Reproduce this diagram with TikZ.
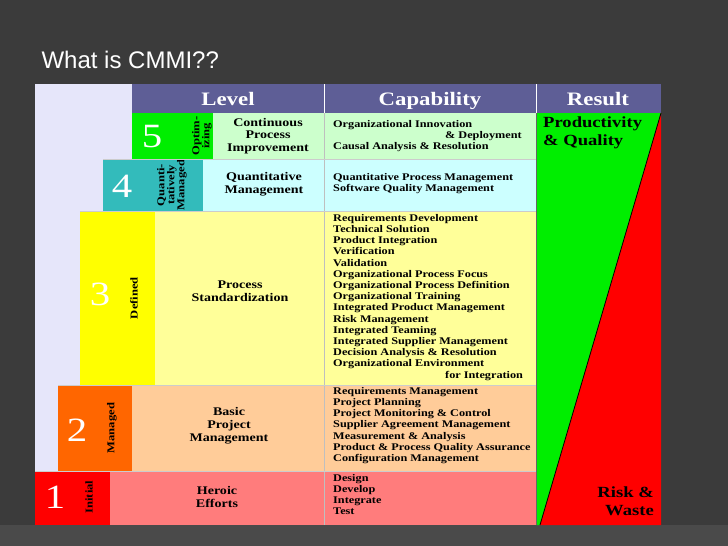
\documentclass[tikz,border=0pt]{standalone}
\usepackage{fontspec}
\setmainfont{Liberation Serif}[FakeStretch=1.2]
\newfontfamily\titlefont{Liberation Sans}
\definecolor{bg}{HTML}{3B3B3B}
\definecolor{bgb}{HTML}{4A4A4A}
\definecolor{lav}{HTML}{E6E6FA}
\definecolor{hdr}{HTML}{5E5E96}
\definecolor{g5}{HTML}{00EE00}\definecolor{l5}{HTML}{CCFFCC}
\definecolor{g4}{HTML}{33BBBB}\definecolor{l4}{HTML}{CCFFFF}
\definecolor{g3}{HTML}{FFFF00}\definecolor{l3}{HTML}{FFFF99}
\definecolor{g2}{HTML}{FF6600}\definecolor{l2}{HTML}{FFCC99}
\definecolor{g1}{HTML}{FF0000}\definecolor{l1}{HTML}{FF7C7C}
\tikzset{
 num/.style={text=white, font=\fontsize{34}{34}\selectfont, anchor=center},
 rot/.style={rotate=90, font=\bfseries\fontsize{10.5}{10}\selectfont, align=center, anchor=center},
 desc/.style={font=\bfseries\fontsize{11.7}{12.8}\selectfont, align=center, anchor=center},
 captext/.style={font=\bfseries\fontsize{10.2}{11.2}\selectfont, align=left, anchor=north west, inner sep=0pt},
 hd/.style={text=white, font=\bfseries\fontsize{19}{19}\selectfont, anchor=base}
}
\begin{document}
\begin{tikzpicture}[x=1pt,y=-1pt]
\fill[bg] (0,0) rectangle (728,546);
\fill[bgb] (0,525) rectangle (728,546);
\useasboundingbox (0,0) rectangle (728,546);
\node[text=white, font=\titlefont\fontsize{24}{24}\selectfont, anchor=west] (title) at (38,60) {What is CMMI??};
\fill[lav] (35,84) rectangle (132,525);
% header
\fill[hdr] (132,84) rectangle (661,113);
\draw[white] (324,84) -- (324,113) (536,84) -- (536,113);
\node[hd] (hl) at (228,105) {Level};
\node[hd] (hc) at (430,105) {Capability};
\node[hd] (hr) at (598,105) {Result};
% row 5
\fill[g5] (132,113) rectangle (213,159);
\fill[l5] (213,113) rectangle (536,159);
\node[num] (n5) at (152,137) {5};
\node[rot] (r5) at (202,136) {Optim-\\izing};
\node[desc] (d5) at (268,136) {Continuous\\Process\\Improvement};
\node[captext] (c5) at (333,120) {Organizational Innovation\\\hspace*{112pt}\& Deployment\\Causal Analysis \& Resolution};
% row 4
\fill[g4] (103,159) rectangle (203,211);
\fill[l4] (203,159) rectangle (536,211);
\node[num] (n4) at (122,186) {4};
\node[rot] (r4) at (172,185) {Quanti-\\tatively\\Managed};
\node[desc] (d4) at (264,184) {Quantitative\\Management};
\node[captext] (c4) at (333,173) {Quantitative Process Management\\Software Quality Management};
% row 3
\fill[g3] (80,211) rectangle (155,385);
\fill[l3] (155,211) rectangle (536,385);
\node[num] (n3) at (100,294) {3};
\node[rot] (r3) at (134,298) {Defined};
\node[desc] (d3) at (240,291) {Process\\Standardization};
\node[captext] (c3) at (333,214) {Requirements Development\\Technical Solution\\Product Integration\\Verification\\Validation\\Organizational Process Focus\\Organizational Process Definition\\Organizational Training\\Integrated Product Management\\Risk Management\\Integrated Teaming\\Integrated Supplier Management\\Decision Analysis \& Resolution\\Organizational Environment\\\hspace*{112pt}for Integration};
% row 2
\fill[g2] (58,385) rectangle (132,471);
\fill[l2] (132,385) rectangle (536,471);
\node[num] (n2) at (77,430) {2};
\node[rot] (r2) at (112,428) {Managed};
\node[desc] (d2) at (229,426) {Basic\\Project\\Management};
\node[captext] (c2) at (333,387) {Requirements Management\\Project Planning\\Project Monitoring \& Control\\Supplier Agreement Management\\Measurement \& Analysis\\Product \& Process Quality Assurance\\Configuration Management};
% row 1
\fill[g1] (35,471) rectangle (110,525);
\fill[l1] (110,471) rectangle (536,525);
\node[num] (n1) at (55,497) {1};
\node[rot] (r1) at (89,497) {Initial};
\node[desc] (d1) at (217,497) {Heroic\\Efforts};
\node[captext] (c1) at (333,474) {Design\\Develop\\Integrate\\Test};
% grid lines
\draw[black!25, line width=0.4pt] (324,113) -- (324,525);
\foreach \y/\a in {159/103,211/80,385/58,471/35} \draw[black!20] (\a,\y) -- (536,\y);
% result column
\fill[g5] (536,113) -- (661,113) -- (540,525) -- (536,525) -- cycle;
\fill[g1] (661,113) -- (661,525) -- (540,525) -- cycle;
\draw[black, line width=0.8pt] (661,113) -- (540,525);
\draw[black!60] (536,113) -- (536,525);
\node[font=\bfseries\fontsize{15.5}{18}\selectfont, align=left, anchor=north west, inner sep=0pt] (rq) at (543,117) {Productivity\\\& Quality};
\node[font=\bfseries\fontsize{15.5}{18}\selectfont, align=right, anchor=south east, inner sep=0pt] (rw) at (654,516) {Risk \&\\Waste};
\end{tikzpicture}
\end{document}
